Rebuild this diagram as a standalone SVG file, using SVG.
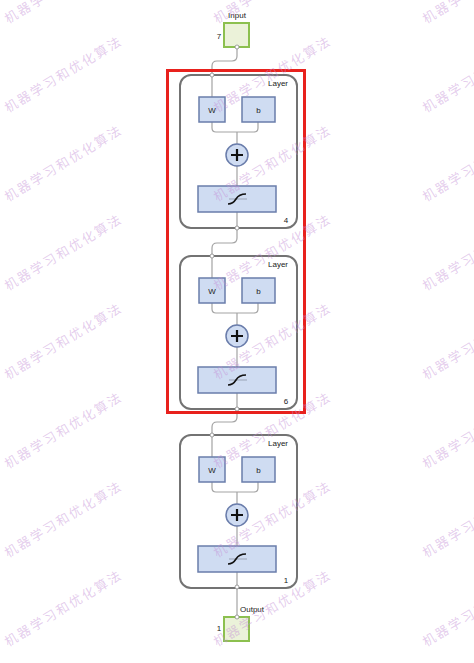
<svg xmlns="http://www.w3.org/2000/svg" xmlns:xlink="http://www.w3.org/1999/xlink" width="474" height="663" viewBox="0 0 474 663">
<style>
.lbl{font-family:"Liberation Sans",Arial,sans-serif;font-size:8px;fill:#222}
.layer{fill:none;stroke:#737373;stroke-width:2}
.blk{fill:#cfdcf2;stroke:#6a7dab;stroke-width:1.5}
.io{fill:#ebf2d9;stroke:#8cc04f;stroke-width:2}
.wire{fill:none;stroke:#a3a3a3;stroke-width:1.2}
.port{fill:#fff;stroke:#8a8a8a;stroke-width:0.8}
.plus{stroke:#111;stroke-width:2.2;fill:none}
.sig{stroke:#111;stroke-width:1.6;fill:none}
.wm{font-family:"Noto Sans CJK SC","Noto Sans",sans-serif;font-size:13px;letter-spacing:2px;fill:#c48fd6;fill-opacity:0.45}
</style>
<defs>
<g id="layerInner">
<rect class="layer" x="180" y="0" width="117" height="153" rx="11"/>
<text class="lbl" x="288" y="11" text-anchor="end">Layer</text>
<rect class="blk" x="199" y="22" width="26" height="25"/>
<text class="lbl" x="212" y="37.5" text-anchor="middle">W</text>
<rect class="blk" x="242" y="22" width="33" height="25"/>
<text class="lbl" x="258.5" y="37.5" text-anchor="middle">b</text>
<circle class="blk" cx="237" cy="80" r="11"/>
<path class="plus" d="M231,80 H243 M237,74 V86"/>
<rect class="blk" x="198" y="111" width="78" height="26"/>
<path d="M229,124 H247" stroke="#9aa3b5" stroke-width="1" fill="none"/>
<path class="sig" d="M228,129 Q233,129 236,124 Q239,119 246,119"/>
</g>
<text id="wm" class="wm" transform="rotate(-31)">机器学习和优化算法</text>
</defs>

<g id="connectors">
<path class="wire" d="M237,47 V56 Q237,61 232,61 H217 Q212,61 212,66 V97"/>
<path class="wire" d="M212,122 V128 Q212,132 216,132 H237 M258,122 V128 Q258,132 254,132 H237 V144 M237,166 V186 M237,212 V228"/>
<path class="wire" d="M237,228 V238 Q237,243 232,243 H217 Q212,243 212,248 V278"/>
<path class="wire" d="M212,303 V309 Q212,313 216,313 H237 M258,303 V309 Q258,313 254,313 H237 V325 M237,347 V367 M237,393 V409"/>
<path class="wire" d="M237,409 V417 Q237,422 232,422 H217 Q212,422 212,427 V457"/>
<path class="wire" d="M212,482 V488 Q212,492 216,492 H237 M258,482 V488 Q258,492 254,492 H237 V504 M237,526 V546 M237,572 V587"/>
<path class="wire" d="M237,587 V617"/>
</g>

<g id="input">
<rect class="io" x="224" y="23" width="25" height="24"/>
<text class="lbl" x="237" y="18" text-anchor="middle">Input</text>
<text class="lbl" x="219" y="39" text-anchor="middle">7</text>
<circle class="port" cx="237" cy="47" r="2"/>
</g>

<g id="layer1" transform="translate(0,75)">
<use xlink:href="#layerInner"/>
<text class="lbl" x="286" y="148" text-anchor="middle">4</text>
<circle class="port" cx="212" cy="0" r="2"/>
<circle class="port" cx="237" cy="153" r="2"/>
</g>

<g id="layer2" transform="translate(0,256)">
<use xlink:href="#layerInner"/>
<text class="lbl" x="286" y="148" text-anchor="middle">6</text>
<circle class="port" cx="212" cy="0" r="2"/>
<circle class="port" cx="237" cy="153" r="2"/>
</g>

<g id="layer3" transform="translate(0,435)">
<use xlink:href="#layerInner"/>
<text class="lbl" x="286" y="148" text-anchor="middle">1</text>
<circle class="port" cx="212" cy="0" r="2"/>
<circle class="port" cx="237" cy="152" r="2"/>
</g>

<g id="output">
<rect class="io" x="224" y="617" width="25" height="24"/>
<text class="lbl" x="252" y="612" text-anchor="middle">Output</text>
<text class="lbl" x="219" y="631" text-anchor="middle">1</text>
<circle class="port" cx="237" cy="617" r="2"/>
</g>

<g id="highlight">
<rect x="167.5" y="70.5" width="137" height="342" fill="none" stroke="#e8211d" stroke-width="3"/>
</g>

<g id="watermark">
<use xlink:href="#wm" transform="translate(8,24)"/>
<use xlink:href="#wm" transform="translate(8,113)"/>
<use xlink:href="#wm" transform="translate(8,202)"/>
<use xlink:href="#wm" transform="translate(8,291)"/>
<use xlink:href="#wm" transform="translate(8,380)"/>
<use xlink:href="#wm" transform="translate(8,469)"/>
<use xlink:href="#wm" transform="translate(8,558)"/>
<use xlink:href="#wm" transform="translate(8,647)"/>
<use xlink:href="#wm" transform="translate(217,24)"/>
<use xlink:href="#wm" transform="translate(217,113)"/>
<use xlink:href="#wm" transform="translate(217,202)"/>
<use xlink:href="#wm" transform="translate(217,291)"/>
<use xlink:href="#wm" transform="translate(217,380)"/>
<use xlink:href="#wm" transform="translate(217,469)"/>
<use xlink:href="#wm" transform="translate(217,558)"/>
<use xlink:href="#wm" transform="translate(217,647)"/>
<use xlink:href="#wm" transform="translate(426,24)"/>
<use xlink:href="#wm" transform="translate(426,113)"/>
<use xlink:href="#wm" transform="translate(426,202)"/>
<use xlink:href="#wm" transform="translate(426,291)"/>
<use xlink:href="#wm" transform="translate(426,380)"/>
<use xlink:href="#wm" transform="translate(426,469)"/>
<use xlink:href="#wm" transform="translate(426,558)"/>
<use xlink:href="#wm" transform="translate(426,647)"/>
</g>
</svg>
